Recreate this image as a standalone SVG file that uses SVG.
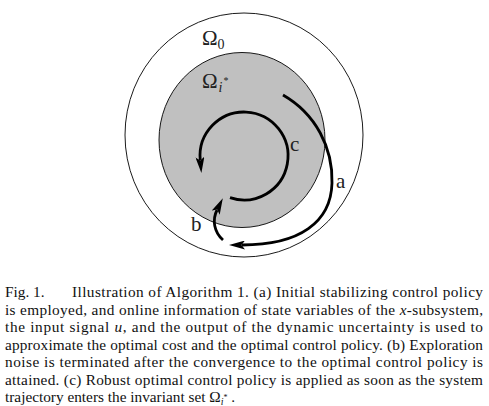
<svg xmlns="http://www.w3.org/2000/svg" width="489" height="406" viewBox="0 0 489 406">
<style>
.lbl{font-family:"Liberation Serif","Times New Roman",serif;font-size:21px;fill:#222}
.cap{font-family:"Liberation Serif","Times New Roman",serif;font-size:15.3px;fill:#111}
.arr{fill:none;stroke:#000;stroke-width:2.8;marker-end:url(#ah)}
</style>
<defs>
<marker id="ah" viewBox="0 0 16 9" refX="3" refY="4.5" markerWidth="16" markerHeight="9" markerUnits="userSpaceOnUse" orient="auto">
<path d="M0,0 L16,4.5 L0,9 L3.5,4.5 z" fill="#000"/>
</marker>
</defs>
<rect width="489" height="406" fill="#fff"/>
<g id="omega0">
<ellipse cx="244" cy="135" rx="119" ry="122" fill="#fff" stroke="#000" stroke-width="0.9"/>
<text class="lbl" x="202" y="45">Ω<tspan font-size="14" dy="4">0</tspan></text>
</g>
<g id="omegai">
<ellipse cx="242" cy="140" rx="83" ry="87.5" fill="#c0c0c0" stroke="#000" stroke-width="0.9"/>
<text class="lbl" x="202" y="88">Ω<tspan font-size="14" font-style="italic" dy="4" dx="1">i</tspan><tspan font-size="10" dy="-8" dx="1">*</tspan></text>
</g>
<g id="connectors">
<path class="arr" d="M283,95 C316,114 333,148 332,183 C331,222 300,245 242,245"/>
<path class="arr" d="M223,240 C214,232 212,220 217,210"/>
<path class="arr" d="M230,197.7 A44,44 0 1 0 200.2,160"/>
<text class="lbl" font-size="22" x="290" y="151">c</text>
<text class="lbl" font-size="22" x="336" y="188">a</text>
<text class="lbl" font-size="22" x="191" y="231">b</text>
</g>
<g id="caption">
<text class="cap" x="5" y="297">Fig. 1.</text>
<text class="cap" x="72" y="297" textLength="411">Illustration of Algorithm 1. (a) Initial stabilizing control policy</text>
<text class="cap" x="5" y="314.5" textLength="478">is employed, and online information of state variables of the <tspan font-style="italic">x</tspan>-subsystem,</text>
<text class="cap" x="5" y="332" textLength="478">the input signal <tspan font-style="italic">u</tspan>, and the output of the dynamic uncertainty is used to</text>
<text class="cap" x="5" y="349.5" textLength="478">approximate the optimal cost and the optimal control policy. (b) Exploration</text>
<text class="cap" x="5" y="367" textLength="478">noise is terminated after the convergence to the optimal control policy is</text>
<text class="cap" x="5" y="384.5" textLength="478">attained. (c) Robust optimal control policy is applied as soon as the system</text>
<text class="cap" x="5" y="402">trajectory enters the invariant set Ω<tspan font-size="10" font-style="italic" dy="3">i</tspan><tspan font-size="8" dy="-5">*</tspan><tspan dy="2"> .</tspan></text>
</g>
</svg>
